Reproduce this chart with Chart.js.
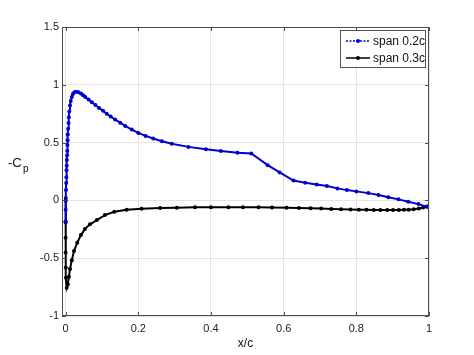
<!DOCTYPE html>
<html>
<head>
<meta charset="utf-8">
<script src="https://cdn.jsdelivr.net/npm/chart.js@4.4.1/dist/chart.umd.min.js"></script>
<style>
  html, body { margin: 0; padding: 0; background: #fff; }
  #wrap { width: 474px; height: 355px; }
</style>
</head>
<body>
<div id="wrap"><canvas id="cp"></canvas></div>
<script>
// span 0.2c (upper, blue)
const xSpan02 = [0, 0, 0.0005, 0.001, 0.0015, 0.002, 0.0025, 0.003, 0.0035, 0.004, 0.0045, 0.005, 0.0055, 0.006, 0.007, 0.008, 0.009, 0.010, 0.012, 0.014, 0.017, 0.020, 0.024, 0.029, 0.035, 0.042, 0.048, 0.054, 0.063, 0.072, 0.082, 0.092, 0.103, 0.113, 0.124, 0.136, 0.150, 0.164, 0.182, 0.2, 0.22, 0.241, 0.265, 0.292, 0.338, 0.386, 0.427, 0.473, 0.511, 0.556, 0.589, 0.627, 0.659, 0.691, 0.719, 0.748, 0.774, 0.8, 0.833, 0.861, 0.888, 0.916, 0.943, 0.971, 0.994, 1.0];
const ySpan02 = [-0.18, -0.08, 0.02, 0.09, 0.15, 0.2, 0.26, 0.3, 0.35, 0.39, 0.43, 0.48, 0.52, 0.57, 0.62, 0.67, 0.72, 0.77, 0.82, 0.86, 0.895, 0.92, 0.935, 0.94, 0.935, 0.925, 0.91, 0.895, 0.872, 0.85, 0.825, 0.80, 0.775, 0.75, 0.725, 0.70, 0.672, 0.644, 0.613, 0.584, 0.558, 0.535, 0.512, 0.49, 0.463, 0.443, 0.428, 0.412, 0.406, 0.305, 0.242, 0.172, 0.152, 0.138, 0.124, 0.104, 0.089, 0.078, 0.063, 0.046, 0.028, 0.009, -0.012, -0.032, -0.055, -0.05];

// span 0.3c (lower, black)
const xSpan03 = [0, 0, 0, 0, 0.0005, 0.001, 0.003, 0.006, 0.009, 0.012, 0.017, 0.023, 0.032, 0.042, 0.053, 0.067, 0.086, 0.108, 0.134, 0.168, 0.209, 0.26, 0.306, 0.356, 0.4, 0.448, 0.488, 0.531, 0.568, 0.608, 0.642, 0.674, 0.703, 0.731, 0.758, 0.784, 0.807, 0.828, 0.848, 0.866, 0.885, 0.901, 0.917, 0.931, 0.944, 0.958, 0.972, 0.984, 0.995, 1.0];
const ySpan03 = [0.0, -0.19, -0.323, -0.45, -0.58, -0.67, -0.755, -0.725, -0.66, -0.593, -0.518, -0.438, -0.366, -0.30, -0.248, -0.207, -0.17, -0.127, -0.098, -0.081, -0.072, -0.066, -0.064, -0.06, -0.06, -0.06, -0.06, -0.06, -0.062, -0.064, -0.066, -0.068, -0.071, -0.074, -0.077, -0.079, -0.08, -0.081, -0.082, -0.083, -0.083, -0.083, -0.082, -0.081, -0.08, -0.076, -0.07, -0.062, -0.052, -0.048];

const xTicks = [0, 0.2, 0.4, 0.6, 0.8, 1];
const yTicks = [-1, -0.5, 0, 0.5, 1, 1.5];
const seriesNames = ["span 0.2c", "span 0.3c"];

const pts = (xs, ys) => xs.map((x, i) => ({ x: x, y: ys[i] }));
const FONT = "'Liberation Sans', Arial, Helvetica, sans-serif";

// box, inward ticks, y label with subscript and legend
const frame = {
  id: "frame",
  afterDraw(chart) {
    const { ctx, chartArea: a, scales } = chart;
    ctx.save();
    ctx.strokeStyle = "#4d4d4d";
    ctx.lineWidth = 1;
    ctx.strokeRect(a.left + 0.5, a.top + 0.5, a.right - a.left - 1, a.bottom - a.top - 1);
    ctx.beginPath();
    xTicks.forEach(v => {
      const px = Math.round(scales.x.getPixelForValue(v)) + 0.5;
      ctx.moveTo(px, a.bottom); ctx.lineTo(px, a.bottom - 4);
      ctx.moveTo(px, a.top); ctx.lineTo(px, a.top + 4);
    });
    yTicks.forEach(v => {
      const py = Math.round(scales.y.getPixelForValue(v)) + 0.5;
      ctx.moveTo(a.left, py); ctx.lineTo(a.left + 4, py);
      ctx.moveTo(a.right, py); ctx.lineTo(a.right - 4, py);
    });
    ctx.stroke();

    // -C_p
    ctx.fillStyle = "#111";
    ctx.textBaseline = "alphabetic";
    ctx.textAlign = "left";
    ctx.font = "13px " + FONT;
    ctx.fillText("-C", 8, 167);
    ctx.font = "10px " + FONT;
    ctx.fillText("p", 23, 172);

    // legend
    const lx = 340.5, ly = 30.5, lw = 85, lh = 37;
    ctx.fillStyle = "#fff";
    ctx.fillRect(lx, ly, lw, lh);
    ctx.strokeStyle = "#555";
    ctx.strokeRect(lx, ly, lw, lh);
    const rows = [
      { c: "#0000d0", dash: [2, 1.5], y: 41 },
      { c: "#000000", dash: [], y: 58 }
    ];
    rows.forEach((r, i) => {
      ctx.strokeStyle = r.c;
      ctx.lineWidth = 1.5;
      ctx.setLineDash(r.dash);
      ctx.beginPath();
      ctx.moveTo(346, r.y); ctx.lineTo(370, r.y);
      ctx.stroke();
      ctx.setLineDash([]);
      ctx.fillStyle = r.c;
      ctx.beginPath();
      ctx.arc(358, r.y, 2, 0, Math.PI * 2);
      ctx.fill();
      ctx.fillStyle = "#111";
      ctx.font = "12px " + FONT;
      ctx.textBaseline = "middle";
      ctx.fillText(seriesNames[i], 373, r.y + 0.5);
    });
    ctx.restore();
  }
};

new Chart(document.getElementById("cp"), {
  type: "scatter",
  data: {
    datasets: [
      {
        label: seriesNames[0],
        data: pts(xSpan02, ySpan02),
        showLine: true,
        borderColor: "#0000d0",
        backgroundColor: "#0000d0",
        borderWidth: 2,
        pointRadius: 2,
        pointBorderWidth: 0,
        tension: 0
      },
      {
        label: seriesNames[1],
        data: pts(xSpan03, ySpan03),
        showLine: true,
        borderColor: "#000000",
        backgroundColor: "#000000",
        borderWidth: 2,
        pointRadius: 2,
        pointBorderWidth: 0,
        tension: 0
      }
    ]
  },
  options: {
    responsive: true,
    maintainAspectRatio: false,
    animation: false,
    layout: { padding: { left: 0, top: 27, right: 45, bottom: 0 } },
    plugins: { legend: { display: false }, tooltip: { enabled: false } },
    scales: {
      x: {
        type: "linear",
        min: -0.01,
        max: 1,
        afterBuildTicks: s => { s.ticks = xTicks.map(v => ({ value: v })); },
        afterFit: s => { s.height = 39; },
        grid: { color: "#e4e4e4", drawTicks: false },
        border: { display: false },
        ticks: { color: "#222", padding: 6, font: { size: 11, family: FONT }, maxRotation: 0,
                 callback: v => String(v) },
        title: { display: true, text: "x/c", color: "#111", font: { size: 12, family: FONT }, padding: { top: 2 } }
      },
      y: {
        type: "linear",
        min: -1,
        max: 1.5,
        afterBuildTicks: s => { s.ticks = yTicks.map(v => ({ value: v })); },
        afterFit: s => { s.width = 62; },
        grid: { color: "#e4e4e4", drawTicks: false },
        border: { display: false },
        ticks: { color: "#222", padding: 3, font: { size: 11, family: FONT },
                 callback: v => String(v) }
      }
    }
  },
  plugins: [frame]
});
</script>
</body>
</html>
